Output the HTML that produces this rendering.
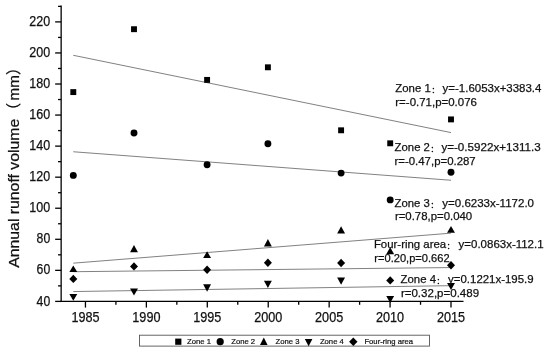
<!DOCTYPE html><html><head><meta charset="utf-8"><title>Annual runoff volume</title>
<style>html,body{margin:0;padding:0;background:#fff}svg{display:block}text{font-family:"Liberation Sans","Noto Sans CJK SC",sans-serif;fill:#111;stroke:#111;stroke-width:0.25}</style></head><body>
<svg width="550" height="352" viewBox="0 0 550 352">
<rect width="550" height="352" fill="#fff"/>
<g stroke="#000" stroke-width="1.3" fill="none">
<path d="M61.15 5.5V302.04999999999995"/>
<path d="M60.5 301.4H463.5"/>
<path d="M55.15 301.40H61.15"/>
<path d="M55.15 270.34H61.15"/>
<path d="M55.15 239.29H61.15"/>
<path d="M55.15 208.23H61.15"/>
<path d="M55.15 177.18H61.15"/>
<path d="M55.15 146.12H61.15"/>
<path d="M55.15 115.06H61.15"/>
<path d="M55.15 84.01H61.15"/>
<path d="M55.15 52.95H61.15"/>
<path d="M55.15 21.90H61.15"/>
<path d="M58.05 285.87H61.15"/>
<path d="M58.05 254.82H61.15"/>
<path d="M58.05 223.76H61.15"/>
<path d="M58.05 192.70H61.15"/>
<path d="M58.05 161.65H61.15"/>
<path d="M58.05 130.59H61.15"/>
<path d="M58.05 99.54H61.15"/>
<path d="M58.05 68.48H61.15"/>
<path d="M58.05 37.42H61.15"/>
<path d="M58.05 6.37H61.15"/>
<path d="M85.45 301.4V307.59999999999997"/>
<path d="M146.38 301.4V307.59999999999997"/>
<path d="M207.30 301.4V307.59999999999997"/>
<path d="M268.23 301.4V307.59999999999997"/>
<path d="M329.15 301.4V307.59999999999997"/>
<path d="M390.07 301.4V307.59999999999997"/>
<path d="M451.00 301.4V307.59999999999997"/>
<path d="M115.91 301.4V304.79999999999995"/>
<path d="M176.84 301.4V304.79999999999995"/>
<path d="M237.76 301.4V304.79999999999995"/>
<path d="M298.69 301.4V304.79999999999995"/>
<path d="M359.61 301.4V304.79999999999995"/>
<path d="M420.54 301.4V304.79999999999995"/>
</g>
<text x="50.20" y="305.50" font-size="14" text-anchor="end" textLength="13.6" lengthAdjust="spacingAndGlyphs">40</text>
<text x="50.20" y="274.44" font-size="14" text-anchor="end" textLength="13.6" lengthAdjust="spacingAndGlyphs">60</text>
<text x="50.20" y="243.39" font-size="14" text-anchor="end" textLength="13.6" lengthAdjust="spacingAndGlyphs">80</text>
<text x="50.20" y="212.33" font-size="14" text-anchor="end" textLength="20.9" lengthAdjust="spacingAndGlyphs">100</text>
<text x="50.20" y="181.28" font-size="14" text-anchor="end" textLength="20.9" lengthAdjust="spacingAndGlyphs">120</text>
<text x="50.20" y="150.22" font-size="14" text-anchor="end" textLength="20.9" lengthAdjust="spacingAndGlyphs">140</text>
<text x="50.20" y="119.16" font-size="14" text-anchor="end" textLength="20.9" lengthAdjust="spacingAndGlyphs">160</text>
<text x="50.20" y="88.11" font-size="14" text-anchor="end" textLength="20.9" lengthAdjust="spacingAndGlyphs">180</text>
<text x="50.20" y="57.05" font-size="14" text-anchor="end" textLength="20.9" lengthAdjust="spacingAndGlyphs">200</text>
<text x="50.20" y="26.00" font-size="14" text-anchor="end" textLength="20.9" lengthAdjust="spacingAndGlyphs">220</text>
<text x="85.45" y="321.6" font-size="14.2" text-anchor="middle" textLength="28.1" lengthAdjust="spacingAndGlyphs">1985</text>
<text x="146.38" y="321.6" font-size="14.2" text-anchor="middle" textLength="28.1" lengthAdjust="spacingAndGlyphs">1990</text>
<text x="207.30" y="321.6" font-size="14.2" text-anchor="middle" textLength="28.1" lengthAdjust="spacingAndGlyphs">1995</text>
<text x="268.23" y="321.6" font-size="14.2" text-anchor="middle" textLength="28.1" lengthAdjust="spacingAndGlyphs">2000</text>
<text x="329.15" y="321.6" font-size="14.2" text-anchor="middle" textLength="28.1" lengthAdjust="spacingAndGlyphs">2005</text>
<text x="390.07" y="321.6" font-size="14.2" text-anchor="middle" textLength="28.1" lengthAdjust="spacingAndGlyphs">2010</text>
<text x="451.00" y="321.6" font-size="14.2" text-anchor="middle" textLength="28.1" lengthAdjust="spacingAndGlyphs">2015</text>
<text transform="translate(18.5 267.5) rotate(-90)" font-size="15.2"><tspan x="-0.3" textLength="149" lengthAdjust="spacingAndGlyphs">Annual runoff volume</tspan><tspan x="149.5">（</tspan><tspan x="167">mm</tspan><tspan x="192.5">）</tspan></text>
<g stroke="#505050" stroke-width="0.72" fill="none">
<path d="M73.30 55.30L451.00 132.58"/>
<path d="M73.30 151.75L451.00 180.26"/>
<path d="M73.30 263.16L451.00 233.16"/>
<path d="M73.30 271.71L451.00 267.56"/>
<path d="M73.30 291.55L451.00 285.67"/>
</g>
<g fill="#000">
<rect x="70.35" y="89.15" width="5.9" height="5.9"/>
<circle cx="73.30" cy="175.40" r="3.45"/>
<path d="M73.30 265.40L77.25 271.90H69.35Z"/>
<path d="M73.30 300.80L77.25 294.00H69.35Z"/>
<path d="M73.30 274.70L77.30 278.90L73.30 283.10L69.30 278.90Z"/>
<rect x="131.05" y="26.25" width="5.9" height="5.9"/>
<circle cx="134.00" cy="133.00" r="3.45"/>
<path d="M134.00 245.00L137.95 252.20H130.05Z"/>
<path d="M134.00 295.40L137.95 288.40H130.05Z"/>
<path d="M134.00 262.20L138.00 266.40L134.00 270.60L130.00 266.40Z"/>
<rect x="204.15" y="76.95" width="5.9" height="5.9"/>
<circle cx="207.10" cy="164.70" r="3.45"/>
<path d="M207.10 251.30L211.05 258.10H203.15Z"/>
<path d="M207.10 291.80L211.05 284.30H203.15Z"/>
<path d="M207.10 265.50L211.10 269.70L207.10 273.90L203.10 269.70Z"/>
<rect x="264.95" y="64.35" width="5.9" height="5.9"/>
<circle cx="267.90" cy="143.70" r="3.45"/>
<path d="M267.90 239.10L271.85 246.40H263.95Z"/>
<path d="M267.90 288.00L271.85 280.70H263.95Z"/>
<path d="M267.90 258.60L271.90 262.80L267.90 267.00L263.90 262.80Z"/>
<rect x="338.15" y="127.35" width="5.9" height="5.9"/>
<circle cx="341.10" cy="173.10" r="3.45"/>
<path d="M341.10 226.30L345.05 233.60H337.15Z"/>
<path d="M341.10 284.70L345.05 277.40H337.15Z"/>
<path d="M341.10 258.80L345.10 263.00L341.10 267.20L337.10 263.00Z"/>
<rect x="387.25" y="140.35" width="5.9" height="5.9"/>
<circle cx="390.20" cy="199.90" r="3.45"/>
<path d="M390.20 247.20L394.15 254.20H386.25Z"/>
<path d="M390.20 303.10L394.15 296.00H386.25Z"/>
<path d="M390.20 276.20L394.20 280.40L390.20 284.60L386.20 280.40Z"/>
<rect x="448.05" y="116.45" width="5.9" height="5.9"/>
<circle cx="451.00" cy="172.30" r="3.45"/>
<path d="M451.00 226.00L454.95 232.80H447.05Z"/>
<path d="M451.00 290.00L454.95 283.10H447.05Z"/>
<path d="M451.00 261.00L455.00 265.20L451.00 269.40L447.00 265.20Z"/>
</g>
<text y="92.3" font-size="11.5"><tspan x="395.3" textLength="35.5" lengthAdjust="spacingAndGlyphs">Zone 1</tspan><tspan x="431.9" font-size="5.5" style="stroke-width:0.75">：</tspan><tspan x="442.6" textLength="98.8" lengthAdjust="spacingAndGlyphs">y=-1.6053x+3383.4</tspan></text>
<text y="105.7" font-size="11.5"><tspan x="395.3" textLength="81.6" lengthAdjust="spacingAndGlyphs">r=-0.71,p=0.076</tspan></text>
<text y="151.2" font-size="11.5"><tspan x="394.6" textLength="35.3" lengthAdjust="spacingAndGlyphs">Zone 2</tspan><tspan x="431.0" font-size="5.5" style="stroke-width:0.75">：</tspan><tspan x="441.4" textLength="99.3" lengthAdjust="spacingAndGlyphs">y=-0.5922x+1311.3</tspan></text>
<text y="164.8" font-size="11.5"><tspan x="394.5" textLength="81.2" lengthAdjust="spacingAndGlyphs">r=-0.47,p=0.287</tspan></text>
<text y="206.9" font-size="11.5"><tspan x="394.5" textLength="35.3" lengthAdjust="spacingAndGlyphs">Zone 3</tspan><tspan x="430.9" font-size="5.5" style="stroke-width:0.75">：</tspan><tspan x="442.3" textLength="91.7" lengthAdjust="spacingAndGlyphs">y=0.6233x-1172.0</tspan></text>
<text y="220.2" font-size="11.5"><tspan x="394.9" textLength="77.3" lengthAdjust="spacingAndGlyphs">r=0.78,p=0.040</tspan></text>
<text y="247.8" font-size="11.5"><tspan x="373.9" textLength="72.3" lengthAdjust="spacingAndGlyphs">Four-ring area</tspan><tspan x="447.3" font-size="5.5" style="stroke-width:0.75">：</tspan><tspan x="458.6" textLength="85.0" lengthAdjust="spacingAndGlyphs">y=0.0863x-112.1</tspan></text>
<text y="261.6" font-size="11.5"><tspan x="374.3" textLength="75.3" lengthAdjust="spacingAndGlyphs">r=0.20,p=0.662</tspan></text>
<text y="282.6" font-size="11.5"><tspan x="400.5" textLength="35.5" lengthAdjust="spacingAndGlyphs">Zone 4</tspan><tspan x="437.1" font-size="5.5" style="stroke-width:0.75">：</tspan><tspan x="448.1" textLength="85.5" lengthAdjust="spacingAndGlyphs">y=0.1221x-195.9</tspan></text>
<text y="296.8" font-size="11.5"><tspan x="400.9" textLength="78.2" lengthAdjust="spacingAndGlyphs">r=0.32,p=0.489</tspan></text>
<rect x="139.5" y="335.2" width="290.0" height="10.9" fill="#fff" stroke="#555" stroke-width="0.9"/>
<g fill="#000">
<rect x="175.20" y="338.60" width="6.2" height="6.2"/>
<circle cx="220.20" cy="341.70" r="3.6"/>
<path d="M263.80 337.60L267.60 344.90H260.00Z"/>
<path d="M308.60 346.20L312.40 339.10H304.80Z"/>
<path d="M353.30 337.40L357.50 341.70L353.30 346.00L349.10 341.70Z"/>
</g>
<text x="187.0" y="344.4" font-size="7.7" style="stroke-width:0.2">Zone 1</text>
<text x="231.2" y="344.4" font-size="7.7" style="stroke-width:0.2">Zone 2</text>
<text x="275.6" y="344.4" font-size="7.7" style="stroke-width:0.2">Zone 3</text>
<text x="319.9" y="344.4" font-size="7.7" style="stroke-width:0.2">Zone 4</text>
<text x="364.4" y="344.4" font-size="7.7" style="stroke-width:0.2">Four-ring area</text>
</svg></body></html>
